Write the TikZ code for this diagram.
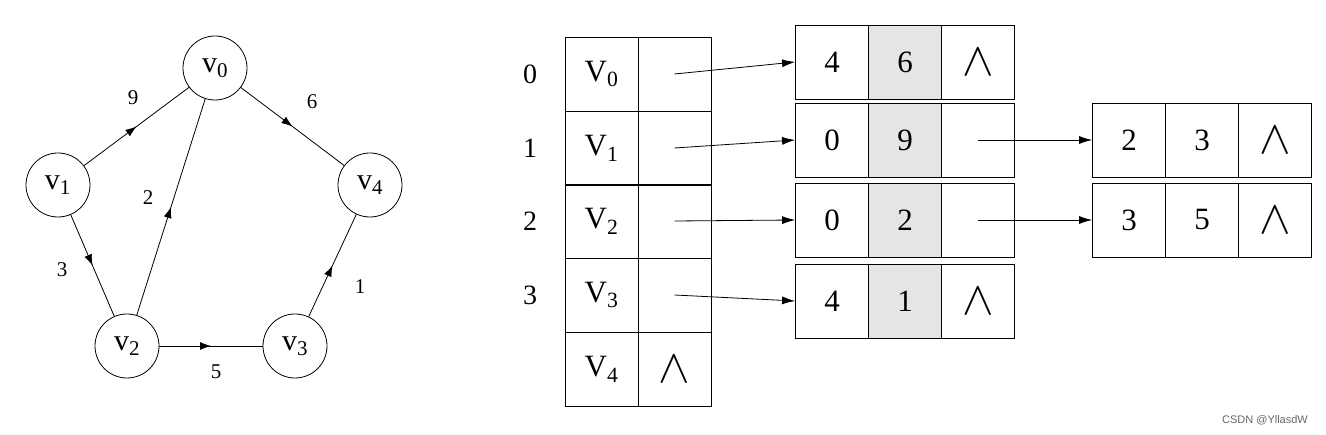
\documentclass[tikz,border=0pt]{standalone}
\usepackage{fontspec}
\setmainfont{Liberation Serif}
\newfontfamily\sansf{Liberation Sans}
\usetikzlibrary{decorations.markings,arrows.meta}
\newcommand{\wdg}{\scalebox{1.9}{$\wedge$}}
\newcommand{\vs}[2]{#1\textsubscript{#2}}
\begin{document}
\begin{tikzpicture}[x=1pt,y=-1pt,
 v/.style={circle,draw,thick,minimum size=64pt,inner sep=0pt,font=\fontsize{30}{30}\selectfont},
 el/.style={font=\fontsize{21}{21}\selectfont},
 mid/.style={thick,postaction={decorate},decoration={markings,mark=at position 0.5 with {\arrow{Latex[length=11pt,width=8pt]}}}},
 c/.style={draw,thick,minimum width=73pt,minimum height=74pt,inner sep=0pt,font=\fontsize{31}{31}\selectfont},
 g/.style={c,fill=black!10},
 ar/.style={thick,-{Latex[length=13pt,width=8pt]}},
 idx/.style={font=\fontsize{28}{28}\selectfont}]
\useasboundingbox (0,0) rectangle (1326,435);
\fill[white] (0,0) rectangle (1326,435);
% graph
\node[v] (v0) at (215,68) {\vs{v}{0}};
\node[v] (v1) at (58,185) {\vs{v}{1}};
\node[v] (v4) at (370,185) {\vs{v}{4}};
\node[v] (v2) at (127,346) {\vs{v}{2}};
\node[v] (v3) at (295,346) {\vs{v}{3}};
\draw[mid] (v1) -- (v0);
\draw[mid] (v0) -- (v4);
\draw[mid] (v2) -- (v0);
\draw[mid] (v1) -- (v2);
\draw[mid] (v2) -- (v3);
\draw[mid] (v3) -- (v4);
\node[el] (l9) at (133,98) {9};
\node[el] (l6) at (312,102) {6};
\node[el] (l2) at (148,198) {2};
\node[el] (l3) at (62,270) {3};
\node[el] (l5) at (216,372) {5};
\node[el] (l1) at (360,287) {1};
% vertex table
\foreach \i/\y in {0/74,1/148,2/221,3/295}{
  \node[idx] (i\i) at (530,\y) {\i};
  \node[c] (a\i) at (601.5,\y) {\vs{V}{\i}};
  \node[c] (b\i) at (674.5,\y) {};
}
\node[c] (a4) at (601.5,369) {\vs{V}{4}};
\node[c] (b4) at (674.5,369) {\wdg};
% lists
\node[c] (p0) at (832,62) {4}; \node[g] (q0) at (905,62) {6}; \node[c] (r0) at (978,62) {\wdg};
\node[c] (p1) at (832,140) {0}; \node[g] (q1) at (905,140) {9}; \node[c] (r1) at (978,140) {};
\node[c] (p2) at (832,220) {0}; \node[g] (q2) at (905,220) {2}; \node[c] (r2) at (978,220) {};
\node[c] (p3) at (832,301) {4}; \node[g] (q3) at (905,301) {1}; \node[c] (r3) at (978,301) {\wdg};
\node[c] (s1) at (1129,140) {2}; \node[c] (t1) at (1202,140) {3}; \node[c] (u1) at (1275,140) {\wdg};
\node[c] (s2) at (1129,220) {3}; \node[c] (t2) at (1202,220) {5}; \node[c] (u2) at (1275,220) {\wdg};
\foreach \i in {0,1,2,3}{\draw[ar] (b\i.center) -- (p\i.west);}
\draw[ar] (r1.center) -- (s1.west);
\draw[ar] (r2.center) -- (s2.west);
\node[font=\sansf\fontsize{11}{11}\selectfont,text=black!60] (w) at (1265,420) {CSDN @YllasdW};
\end{tikzpicture}
\end{document}
